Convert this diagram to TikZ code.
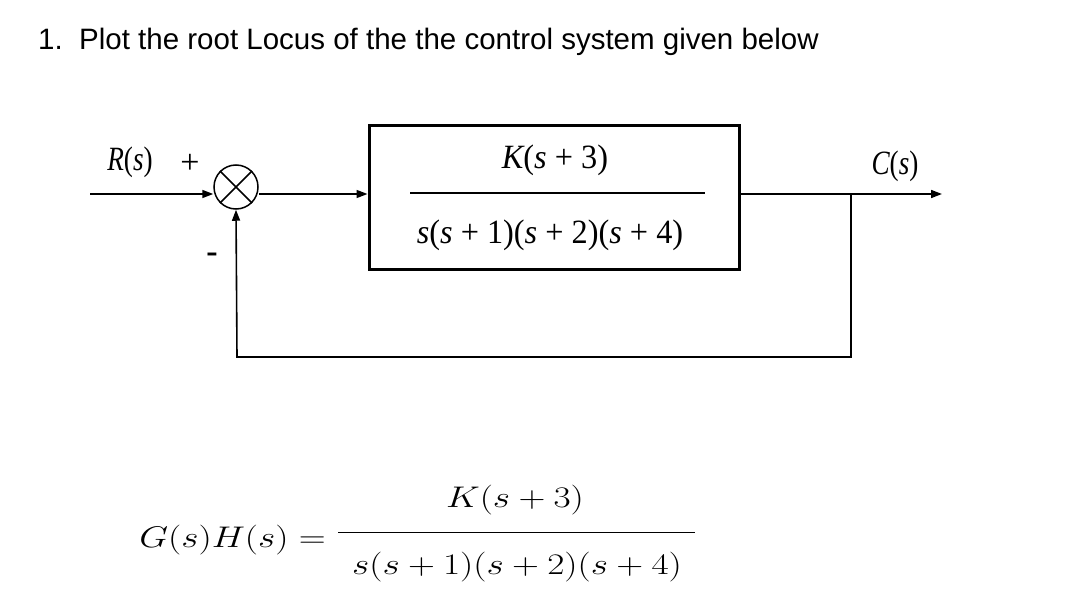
\documentclass[tikz,border=0pt]{standalone}
\usepackage{fontspec}
\newfontfamily\arial{Liberation Sans}
\newfontfamily\tnr{Liberation Serif}
\usetikzlibrary{arrows.meta}
\begin{document}
\begin{tikzpicture}[x=1pt,y=-1pt,
  line/.style={line width=1.6pt},
  arr/.style={line, -{Triangle[length=11pt,width=8pt]}},
  lbl/.style={font=\tnr\fontsize{34}{36}\selectfont, inner sep=0pt}]
\useasboundingbox (0,0) rectangle (1085,610);
\node[anchor=west, font=\arial\fontsize{29.5}{32}\selectfont, inner sep=0pt] (title) at (38,42) {1.\ \ Plot the root Locus of the the control system given below};
\coordinate (in) at (90,194);
\node[circle, draw, line width=1.5pt, minimum size=44pt, inner sep=0pt] (sum) at (236,187) {};
\draw[line] (sum.north west) -- (sum.south east) (sum.north east) -- (sum.south west);
\draw[arr] (in) -- (sum.west |- in);
\node[draw, line width=3pt, minimum width=370pt, minimum height=144pt] (blk) at (554,197) {};
\draw[arr] (sum.east |- in) -- (blk.west |- in);
\node[lbl] (num) at (555,160) {\scalebox{0.95}[1]{\itshape K\upshape(\itshape s\upshape\ + 3)}};
\node[lbl] (den) at (550,235) {\scalebox{0.95}[1]{\itshape s\upshape(\itshape s\upshape\ + 1)(\itshape s\upshape\ + 2)(\itshape s\upshape\ + 4)}};
\draw[line width=1.2pt] (410,193) -- (705,193);
\coordinate (out) at (942,194);
\coordinate (br) at (851,194);
\draw[arr] (blk.east |- in) -- (out);
\node[lbl] (R) at (130,162) {\scalebox{0.8}[1]{\itshape R\upshape(\itshape s\upshape)}};
\node[lbl] (plus) at (190,164) {+};
\node[lbl] (minus) at (212,258) {\bfseries -};
\node[lbl] (C) at (895,166) {\scalebox{0.8}[1]{\itshape C\upshape(\itshape s\upshape)}};
\coordinate (fb1) at (851,357);
\coordinate (fb2) at (237,357);
\draw[arr] (br) -- (fb1) -- (fb2) -- (sum.south);
\node[anchor=east, inner sep=0pt] (lhs) at (326,540) {\scalebox{1.5}[1.2]{\fontsize{26}{28}\selectfont$G(s)H(s)=$}};
\node[inner sep=0pt] (n2) at (515,500) {\scalebox{1.5}[1.2]{\fontsize{26}{28}\selectfont$K(s+3)$}};
\node[inner sep=0pt] (d2) at (517,567) {\scalebox{1.5}[1.2]{\fontsize{26}{28}\selectfont$s(s+1)(s+2)(s+4)$}};
\draw[line width=1pt] (338,532) -- (695,532);
\end{tikzpicture}
\end{document}
